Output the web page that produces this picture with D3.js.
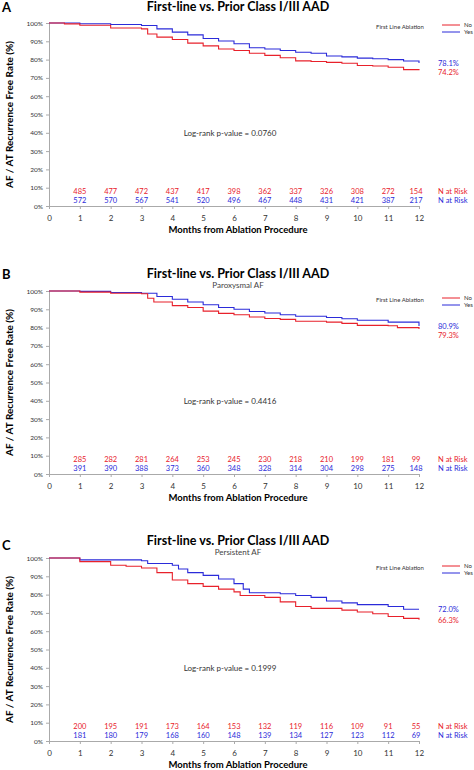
<!DOCTYPE html><html><head><meta charset="utf-8">
<script src="https://cdn.jsdelivr.net/npm/d3@7"></script>
<style>body{margin:0;background:#fff}svg{display:block}text{font-family:Lato,"Open Sans",sans-serif}</style></head><body>
<svg id="c" width="474" height="770"></svg>
<script>
const months=[0,1,2,3,4,5,6,7,8,9,10,11,12];
const yTicks=[0,10,20,30,40,50,60,70,80,90,100];
const panelLetters=["A","B","C"];
const subtitles=["","Paroxysmal AF","Persistent AF"];
const pValues=["0.0760","0.4416","0.1999"];
const finalNo=["74.2%","79.3%","66.3%"];
const finalYes=["78.1%","80.9%","72.0%"];
const riskNo=[[485,477,472,437,417,398,362,337,326,308,272,154],[285,282,281,264,253,245,230,218,210,199,181,99],[200,195,191,173,164,153,132,119,116,109,91,55]];
const riskYes=[[572,570,567,541,520,496,467,448,431,421,387,217],[391,390,388,373,360,348,328,314,304,298,275,148],[181,180,179,168,160,148,139,134,127,123,112,69]];
const curveNo=[
[[0,100],[0.5,99.5],[1,98.8],[2,97.3],[3,96.8],[3.2,94],[3.5,92.3],[4,91],[4.5,89],[5,87.5],[5.5,85.8],[6,85],[6.5,83.5],[7,82.3],[7.5,81],[8,79.3],[8.5,79],[9,78.5],[9.5,78],[10,76.8],[10.5,76.5],[11,75.8],[11.5,74.5],[12,74.2]],
[[0,100],[1,99.4],[2,98.8],[3,98.5],[3.2,96],[3.4,94],[4,92],[4.5,91],[5,89],[5.5,87.8],[6,87],[6.5,85.8],[7,85],[7.5,84.5],[8,83.5],[9,83],[9.5,82.3],[10,81.2],[11,81],[11.3,80],[12,79.3]],
[[0,100],[1,98],[2,96],[2.5,95.5],[3,94.5],[3.5,92],[4,88],[4.5,86],[5,84.5],[5.5,83],[6,81.5],[6.2,79.5],[7,78.5],[7.5,76],[8,73.5],[8.5,72.5],[9,72.5],[9.5,71.5],[10,70.5],[10.5,69.5],[11,68],[11.5,67],[12,66.3]]];
const curveYes=[
[[0,100],[1,99.6],[2,99.2],[3,98.6],[3.5,96.8],[4,95],[4.5,93.5],[5,91.5],[5.5,90.2],[6,88.7],[6.5,86.5],[7,85.8],[7.5,85],[8,84],[8.5,83.5],[9,82],[9.5,81.5],[10,80.8],[10.5,80.5],[11,80],[11.5,79.2],[12,78.1]],
[[0,100],[1,99.8],[2,99.2],[3,98.8],[3.5,97],[4,95.5],[4.5,94],[5,92.5],[5.5,91],[6,90],[6.5,88.8],[7,88],[7.5,87],[8,86.2],[9,85.5],[9.5,84.8],[10,84],[11,83],[12,80.9]],
[[0,100],[1,99],[2,99],[3,98.5],[3.2,97],[4,96],[4.2,94],[4.5,92],[5,90.5],[5.5,88.5],[6,86],[6.3,83],[6.5,81],[7,81],[7.5,80.5],[8,79.5],[8.5,78.5],[9,76.5],[9.5,75.5],[10,74.5],[11,73.5],[11.5,72],[12,72]]];
const RED="#e8212b",BLUE="#2b2bd9";
const svg=d3.select("#c");
const layout=[{top:23,bot:206,title:6},{top:291,bot:474,title:273},{top:558,bot:741,title:540}];
const x=d3.scaleLinear().domain([0,12]).range([49,419]);
layout.forEach((L,i)=>{
  const y=d3.scaleLinear().domain([0,100]).range([L.bot,L.top]);
  const g=svg.append("g");
  g.append("text").attr("x",2).attr("y",L.title+(i==2?10:6)).attr("font-weight","bold").attr("font-size",13).attr("font-family","Arial").text(panelLetters[i]);
  g.append("text").attr("x",238).attr("y",L.title+5).attr("text-anchor","middle").attr("font-weight","bold").attr("font-size",12.5).text("First-line vs. Prior Class I/III AAD");
  if(subtitles[i]) g.append("text").attr("x",238).attr("y",L.title+15).attr("text-anchor","middle").attr("font-size",8).attr("fill","#444").text(subtitles[i]);
  const ya=g.append("g").attr("transform",`translate(49,0)`).call(d3.axisLeft(y).tickValues(yTicks).tickFormat(d=>d+"%").tickSize(3));
  const xa=g.append("g").attr("transform",`translate(0,${L.bot})`).call(d3.axisBottom(x).tickValues(months).tickSize(3).tickPadding(6));
  [ya,xa].forEach(a=>{a.selectAll("path,line").attr("stroke","#aaa");a.selectAll("text").attr("font-size",6.5).attr("fill","#333");});
  xa.selectAll("text").attr("font-size",8);
  g.append("text").attr("transform",`translate(13,${(L.top+L.bot)/2}) rotate(-90)`).attr("text-anchor","middle").attr("font-weight","bold").attr("font-size",10).text("AF / AT Recurrence Free Rate (%)");
  g.append("text").attr("x",238).attr("y",L.bot+27).attr("text-anchor","middle").attr("font-weight","bold").attr("font-size",9.5).text("Months from Ablation Procedure");
  const line=d3.line().x(d=>x(d[0])).y(d=>y(d[1])).curve(d3.curveStepAfter);
  g.append("path").datum(curveYes[i]).attr("d",line).attr("fill","none").attr("stroke",BLUE).attr("stroke-width",1.1);
  g.append("path").datum(curveNo[i]).attr("d",line).attr("fill","none").attr("stroke",RED).attr("stroke-width",1.1);
  g.append("text").attr("x",230).attr("y",y(38)).attr("text-anchor","middle").attr("font-size",8).attr("fill","#333").text("Log-rank p-value = "+pValues[i]);
  const yNo=y(curveNo[i][curveNo[i].length-1][1]), yYes=y(curveYes[i][curveYes[i].length-1][1]);
  let ly1=yYes+3, ly2=yNo+3; if(ly2-ly1<9) ly2=ly1+9;
  g.append("text").attr("x",438).attr("y",ly1).attr("font-size",7.5).attr("fill",BLUE).text(finalYes[i]);
  g.append("text").attr("x",438).attr("y",ly2).attr("font-size",7.5).attr("fill",RED).text(finalNo[i]);
  const lgY=L.top+4+(i==2?6:(i==1?5:0));
  g.append("text").attr("x",376).attr("y",lgY+2).attr("font-size",6).attr("fill","#333").text("First Line Ablation");
  g.append("line").attr("x1",442).attr("x2",460).attr("y1",lgY-2).attr("y2",lgY-2).attr("stroke",RED);
  g.append("line").attr("x1",442).attr("x2",460).attr("y1",lgY+5).attr("y2",lgY+5).attr("stroke",BLUE);
  g.append("text").attr("x",464).attr("y",lgY).attr("font-size",6).attr("fill","#333").text("No");
  g.append("text").attr("x",464).attr("y",lgY+7).attr("font-size",6).attr("fill","#333").text("Yes");
  [[riskNo[i],RED,L.bot-12],[riskYes[i],BLUE,L.bot-3]].forEach(([arr,c,yy])=>{
    g.selectAll(null).data(arr).enter().append("text").attr("x",(d,k)=>x(k+1)-(k==11?3:0)).attr("y",yy).attr("text-anchor","middle").attr("font-size",7.5).attr("fill",c).text(d=>d);
    g.append("text").attr("x",438).attr("y",yy).attr("font-size",7.5).attr("fill",c).text("N at Risk");
  });
});
</script></body></html>
